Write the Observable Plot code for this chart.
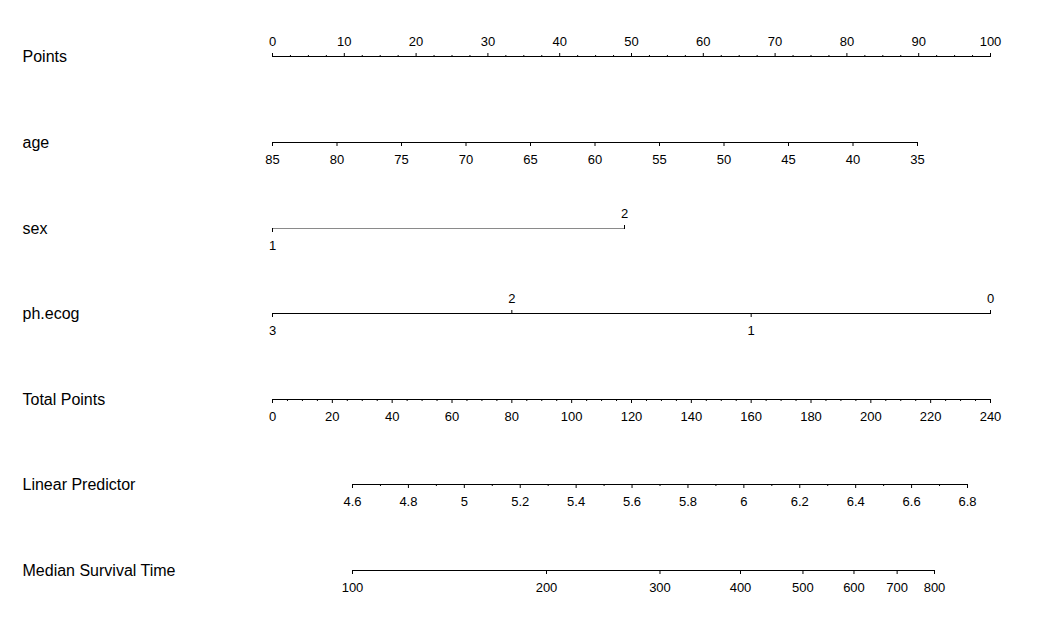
<!DOCTYPE html>
<html>
<head>
<meta charset="utf-8">
<script src="https://cdn.jsdelivr.net/npm/d3@7"></script>
<script src="https://cdn.jsdelivr.net/npm/@observablehq/plot@0.6"></script>
<style>
  html, body { margin: 0; padding: 0; background: #fff; }
  #chart { position: relative; width: 1055px; height: 630px; font-family: "Liberation Sans", Arial, sans-serif; }
  #chart svg { position: absolute; left: 0; background: transparent; }
</style>
</head>
<body>
<div id="chart"></div>
<script>
// Row labels
const rowLabels = ["Points", "age", "sex", "ph.ecog", "Total Points", "Linear Predictor", "Median Survival Time"];

// Scale ticks / values
const pointsTicks = [0, 10, 20, 30, 40, 50, 60, 70, 80, 90, 100];
const ageTicks = [85, 80, 75, 70, 65, 60, 55, 50, 45, 40, 35];
const sexTop = [2];
const sexBottom = [1];
const ecogTop = [2, 0];
const ecogBottom = [3, 1];
const totalTicks = [0, 20, 40, 60, 80, 100, 120, 140, 160, 180, 200, 220, 240];
const lpTicks = [4.6, 4.8, 5, 5.2, 5.4, 5.6, 5.8, 6, 6.2, 6.4, 6.6, 6.8];
const survTicks = [100, 200, 300, 400, 500, 600, 700, 800];

// Scale ranges (domain ends) for each row
const pointsDomain = [0, 100];
const ageDomain = [85, 35];
const sexDomain = [1, 2];
const ecogDomain = [3, 0];
const totalDomain = [0, 240];
const lpDomain = [4.6, 6.8];
const survDomain = [100, 800];

const minor = (lo, hi, step, majors) =>
  d3.range(lo, hi + step / 2, step).map(v => +v.toFixed(4)).filter(v => !majors.some(m => Math.abs(m - v) < 1e-6));

const W = 1055, H = 60, MID = 30;
const FONT = 13;

const rows = [
  {label: rowLabels[0], domain: pointsDomain, ml: 272, mr: 65, top: pointsTicks, topMinor: minor(0, 100, 2.5, pointsTicks), line: 56},
  {label: rowLabels[1], domain: ageDomain, ml: 272, mr: 138, bottom: ageTicks, line: 142},
  {label: rowLabels[2], domain: sexDomain, ml: 272, mr: 431, top: sexTop, bottom: sexBottom, line: 228, stroke: "#8a8a8a"},
  {label: rowLabels[3], domain: ecogDomain, ml: 272, mr: 65, top: ecogTop, bottom: ecogBottom, line: 313},
  {label: rowLabels[4], domain: totalDomain, ml: 272, mr: 65, bottom: totalTicks, bottomMinor: minor(0, 240, 5, totalTicks), line: 399},
  {label: rowLabels[5], domain: lpDomain, ml: 352, mr: 88, bottom: lpTicks, bottomMinor: minor(4.6, 6.8, 0.1, lpTicks), line: 484},
  {label: rowLabels[6], domain: survDomain, type: "log", ml: 352, mr: 121, bottom: survTicks, line: 570}
];

const chart = document.getElementById("chart");
const fmt = d => String(d);

for (const r of rows) {
  const marks = [Plot.ruleY([0], {stroke: r.stroke || "#000", strokeWidth: 1})];
  if (r.topMinor) marks.push(Plot.axisX({anchor: "top", ticks: r.topMinor, tickSize: 2, fill: "none", label: null}));
  if (r.bottomMinor) marks.push(Plot.axisX({anchor: "bottom", ticks: r.bottomMinor, tickSize: 2, fill: "none", label: null}));
  if (r.top) marks.push(Plot.axisX({anchor: "top", ticks: r.top, tickSize: 4, tickPadding: 7, tickFormat: fmt, fontSize: FONT, label: null, fill: "#000"}));
  if (r.bottom) marks.push(Plot.axisX({anchor: "bottom", ticks: r.bottom, tickSize: 4, tickPadding: 8, tickFormat: fmt, fontSize: FONT, label: null, fill: "#000"}));
  marks.push(Plot.text([r.label], {text: d => d, frameAnchor: "left", dx: 22 - r.ml, dy: 0, textAnchor: "start", fontSize: 16, fill: "#000"}));
  const svg = Plot.plot({
    width: W, height: H,
    marginLeft: r.ml, marginRight: r.mr, marginTop: MID, marginBottom: H - MID,
    style: {fontFamily: "'Liberation Sans', Arial, sans-serif", background: "transparent", overflow: "visible"},
    x: {type: r.type || "linear", domain: r.domain},
    y: {domain: [0, 1], axis: null},
    marks
  });
  svg.style.top = (r.line - MID) + "px";
  chart.appendChild(svg);
}
</script>
</body>
</html>
